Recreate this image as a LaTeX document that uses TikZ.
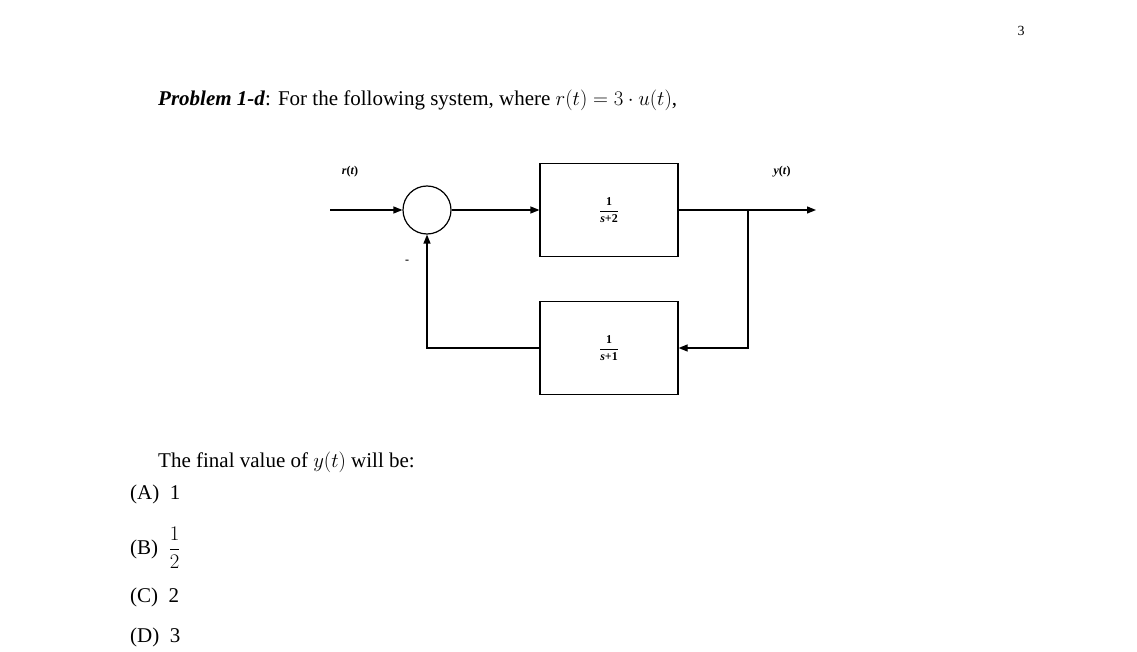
\documentclass[tikz,border=0pt]{standalone}
\usepackage{amsmath}
\usepackage{fontspec}
\setmainfont{Liberation Serif}
\usetikzlibrary{arrows.meta}
\begin{document}
\begin{tikzpicture}[x=1pt,y=-1pt,
  blk/.style={draw,line width=1.2pt,minimum width=138pt,minimum height=93pt,inner sep=0},
  sig/.style={line width=1.2pt,-{Triangle[length=9pt,width=7pt]}},
  txt/.style={font=\fontsize{21}{25}\selectfont,anchor=west,inner sep=0},
  lab/.style={font=\bfseries\fontsize{12}{14}\selectfont,inner sep=0}]
\useasboundingbox (0,0) rectangle (1137,652);
\node[font=\fontsize{14}{16}\selectfont] (pg) at (1021,31) {3};
\node[txt] (title) at (158,100) {\textbf{\textit{Problem 1-d}}: For the following system, where $r(t)=3\cdot u(t)$,};
\node[draw,circle,line width=1.2pt,minimum size=48pt,inner sep=0] (sum) at (427,210) {};
\node[blk] (g) at (609,210) {};
\node[blk] (h) at (609,348) {};
\node[lab] (gf) at (609,210) {$\dfrac{\textbf{1}}{\textbf{\textit{s}+2}}$};
\node[lab] (hf) at (609,348) {$\dfrac{\textbf{1}}{\textbf{\textit{s}+1}}$};
\node[lab] (rl) at (350,172) {\textit{r}(\textit{t})};
\node[lab] (yl) at (782,172) {\textit{y}(\textit{t})};
\node[lab] (minus) at (407,262) {-};
\coordinate (in) at (330,210);
\coordinate (out) at (816,210);
\coordinate (br) at (748,210);
\coordinate (brd) at (748,348);
\coordinate (fb) at (427,348);
\draw[sig] (in) -- (sum.west);
\draw[sig] (sum.east) -- (g.west);
\draw[sig] (g.east) -- (out);
\draw[sig] (br) -- (brd) -- (h.east);
\draw[sig] (h.west) -- (fb) -- (sum.south);
\node[txt] (q) at (158,462) {The final value of $y(t)$ will be:};
\node[txt] (a) at (130,494) {(A)\ \ 1};
\node[txt] (b) at (130,548) {(B)\ \ $\dfrac{1}{2}$};
\node[txt] (c) at (130,597) {(C)\ \ 2};
\node[txt] (d) at (130,637) {(D)\ \ 3};
\end{tikzpicture}
\end{document}
